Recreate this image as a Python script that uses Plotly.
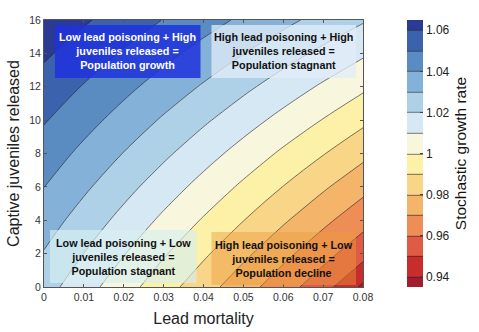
import plotly.graph_objects as go

# Lead mortality (x) and captive juveniles released (y) grid
lead_mortality = [0.00, 0.01, 0.02, 0.03, 0.04, 0.05, 0.06, 0.07, 0.08]
juveniles = [0, 2, 4, 6, 8, 10, 12, 14, 16]

# Stochastic growth rate (rows = juveniles, cols = mortality)
growth_J0 = [1.0240, 1.0140, 1.0041, 0.9941, 0.9841, 0.9742, 0.9642, 0.9542, 0.9380]
growth_J2 = [1.0294, 1.0199, 1.0105, 1.0010, 0.9916, 0.9822, 0.9727, 0.9633, 0.9538]
growth_J4 = [1.0347, 1.0258, 1.0169, 1.0080, 0.9991, 0.9902, 0.9813, 0.9724, 0.9634]
growth_J6 = [1.0401, 1.0317, 1.0233, 1.0149, 1.0066, 0.9982, 0.9898, 0.9814, 0.9730]
growth_J8 = [1.0454, 1.0376, 1.0297, 1.0219, 1.0140, 1.0062, 0.9983, 0.9905, 0.9826]
growth_J10 = [1.0508, 1.0435, 1.0362, 1.0288, 1.0215, 1.0142, 1.0069, 0.9996, 0.9922]
growth_J12 = [1.0562, 1.0494, 1.0426, 1.0358, 1.0290, 1.0222, 1.0154, 1.0086, 1.0018]
growth_J14 = [1.0615, 1.0553, 1.0490, 1.0427, 1.0365, 1.0302, 1.0240, 1.0177, 1.0114]
growth_J16 = [1.0669, 1.0612, 1.0554, 1.0497, 1.0440, 1.0382, 1.0325, 1.0268, 1.0210]

growth_rate = [growth_J0, growth_J2, growth_J4, growth_J6, growth_J8,
               growth_J10, growth_J12, growth_J14, growth_J16]

cbar_tickvals = [0.94, 0.96, 0.98, 1.00, 1.02, 1.04, 1.06]
cbar_ticktext = ["0.94", "0.96", "0.98", "1", "1.02", "1.04", "1.06"]
x_tickvals = [0, 0.01, 0.02, 0.03, 0.04, 0.05, 0.06, 0.07, 0.08]
x_ticktext = ["0", "0.01", "0.02", "0.03", "0.04", "0.05", "0.06", "0.07", "0.08"]
y_tickvals = [0, 2, 4, 6, 8, 10, 12, 14, 16]

band_colors = ["#a21d2d", "#c72d2d", "#df5b43", "#ee8d56", "#f4b56b", "#f9d588",
               "#fdf0a7", "#f8f6dc", "#d7e8f5", "#aed1e8", "#84b1d8", "#5a8cc2",
               "#3a62ad", "#2b3a93"]
n = len(band_colors) - 1
colorscale = [[k / n, c] for k, c in enumerate(band_colors)]

font_fam = "Liberation Sans, Arial"

fig = go.Figure()
fig.add_trace(go.Contour(
    x=lead_mortality, y=juveniles, z=growth_rate,
    autocontour=False,
    contours=dict(start=0.94, end=1.06, size=0.01, coloring="fill"),
    colorscale=colorscale,
    line=dict(color="#222222", width=0.6, smoothing=1.0),
    colorbar=dict(
        x=1.134, xanchor="left", xpad=0, y=0.5, yanchor="middle", ypad=0, len=1.0,
        thickness=16, outlinewidth=0,
        tickvals=cbar_tickvals, ticktext=cbar_ticktext,
        ticks="inside", ticklen=3, tickcolor="#444",
        tickfont=dict(family=font_fam, size=12, color="#222"),
        title=dict(text="Stochastic growth rate", side="right",
                   font=dict(family=font_fam, size=15.5, color="#111")),
    ),
    hoverinfo="skip",
))


def px_to_paper(x0, x1, y0, y1):
    L, R, T, B = 44, 364, 20, 287
    return ((x0 - L) / (R - L), (x1 - L) / (R - L), (B - y1) / (B - T), (B - y0) / (B - T))

boxes = [
    ((55, 201, 25, 78), "rgba(30,50,220,0.85)",
     "Low lead poisoning + High<br>juveniles released =<br>Population growth", "white"),
    ((212, 357, 25, 78), "rgba(225,238,248,0.75)",
     "High lead poisoning + High<br>juveniles released =<br>Population stagnant", "#111"),
    ((50, 197, 230, 283), "rgba(215,240,240,0.65)",
     "Low lead poisoning + Low<br>juveniles released =<br>Population stagnant", "#111"),
    ((212, 357, 232, 285), "rgba(235,155,60,0.45)",
     "High lead poisoning + Low<br>juveniles released =<br>Population decline", "#111"),
]
for (x0, x1, y0, y1), fill, txt, tcol in boxes:
    a, b, c, d = px_to_paper(x0, x1, y0, y1)
    fig.add_shape(type="rect", xref="paper", yref="paper", x0=a, x1=b, y0=c, y1=d,
                  fillcolor=fill, line=dict(width=0), layer="above")
    fig.add_annotation(xref="paper", yref="paper", x=(a + b) / 2, y=(c + d) / 2,
                       text="<b>" + txt + "</b>", showarrow=False,
                       font=dict(family=font_fam, size=10.8, color=tcol),
                       align="center", xanchor="center", yanchor="middle")

fig.update_layout(
    width=479, height=332,
    margin=dict(l=44, r=115, t=20, b=45),
    paper_bgcolor="white", plot_bgcolor="white",
    showlegend=False,
    xaxis=dict(range=[0, 0.08], tickvals=x_tickvals, ticktext=x_ticktext,
               ticks="inside", ticklen=3, tickcolor="#555",
               showline=True, linecolor="#555", linewidth=1, mirror="ticks",
               showgrid=False, zeroline=False,
               tickfont=dict(family=font_fam, size=10.5, color="#333"),
               title=dict(text="Lead mortality", standoff=11,
                          font=dict(family=font_fam, size=16, color="#222")),
               automargin=False),
    yaxis=dict(range=[0, 16], tickvals=y_tickvals,
               ticks="inside", ticklen=3, tickcolor="#555",
               showline=True, linecolor="#555", linewidth=1, mirror="ticks",
               showgrid=False, zeroline=False,
               tickfont=dict(family=font_fam, size=10.5, color="#333"),
               title=dict(text="Captive juveniles released", standoff=5,
                          font=dict(family=font_fam, size=16, color="#222")),
               automargin=False),
)

fig.write_html("out.html")
